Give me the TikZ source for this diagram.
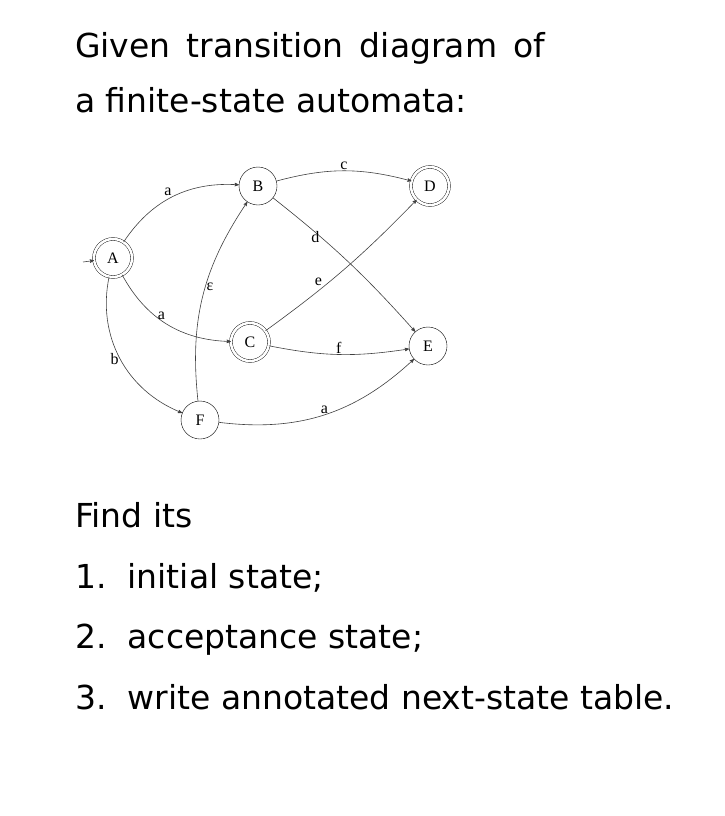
\documentclass[tikz,border=0pt]{standalone}
\usepackage{fontspec}
\setmainfont{DejaVu Sans}
\newfontfamily\statefont{Liberation Serif}
\usetikzlibrary{arrows}
\begin{document}
\begin{tikzpicture}[x=1pt,y=-1pt,
	state/.style={draw,circle,minimum size=38pt,inner sep=0pt,font=\statefont\fontsize{16}{16}\selectfont},
	accept/.style={state,double,double distance=2.5pt},
	trans/.style={->,>=stealth',line width=0.6pt,draw=black!75},
	lbl/.style={font=\statefont\fontsize{16}{16}\selectfont,inner sep=1pt},
	big/.style={font=\fontsize{33}{33}\selectfont,anchor=base west,inner sep=0pt}]
		\useasboundingbox (0,0) rectangle (724,816);
		\node [big] (t1) at (75,58) {Given\, transition\, diagram\, of};
		\node [big] (t2) at (75,112) {a finite-state automata:};
		
		\node [accept] (A) at (113,258) {A};
		\node [state] (B) at (258,186) {B};
		\node [accept] (D) at (430,186) {D};
		\node [accept] (C) at (250,342) {C};
		\node [state] (E) at (428,346) {E};
		\node [state] (F) at (200,420) {F};
		\coordinate (s) at (83,262);
		
		\draw [trans] (s) -- (A);
		\draw [trans] (A) to [bend left=30] node [lbl,above left] {a} (B);
		\draw [trans] (A) to [bend right=30] node [lbl,above,pos=0.45] {a} (C);
		\draw [trans] (A) to [bend right=40] node [lbl,left] {b} (F);
		\draw [trans] (F) to [bend left=20] node [lbl,right,pos=0.55] {ε} (B);
		\draw [trans] (B) to [bend left=15] node [lbl,above] {c} (D);
		\draw [trans] (B) to [bend left=5] node [lbl,left,pos=0.3] {d} (E);
		\draw [trans] (C) to [bend right=5] node [lbl,above left,pos=0.35] {e} (D);
		\draw [trans] (C) to [bend right=10] node [lbl,above] {f} (E);
		\draw [trans] (F) to [bend right=25] node [lbl,above] {a} (E);
		
		\node [big] (t3) at (75,527) {Find its};
		\node [big] (t4) at (75,588) {1.\ \ initial state;};
		\node [big] (t5) at (75,648) {2.\ \ acceptance state;};
		\node [big] (t6) at (75,709) {3.\ \ write annotated next-state table.};
\end{tikzpicture}
\end{document}
